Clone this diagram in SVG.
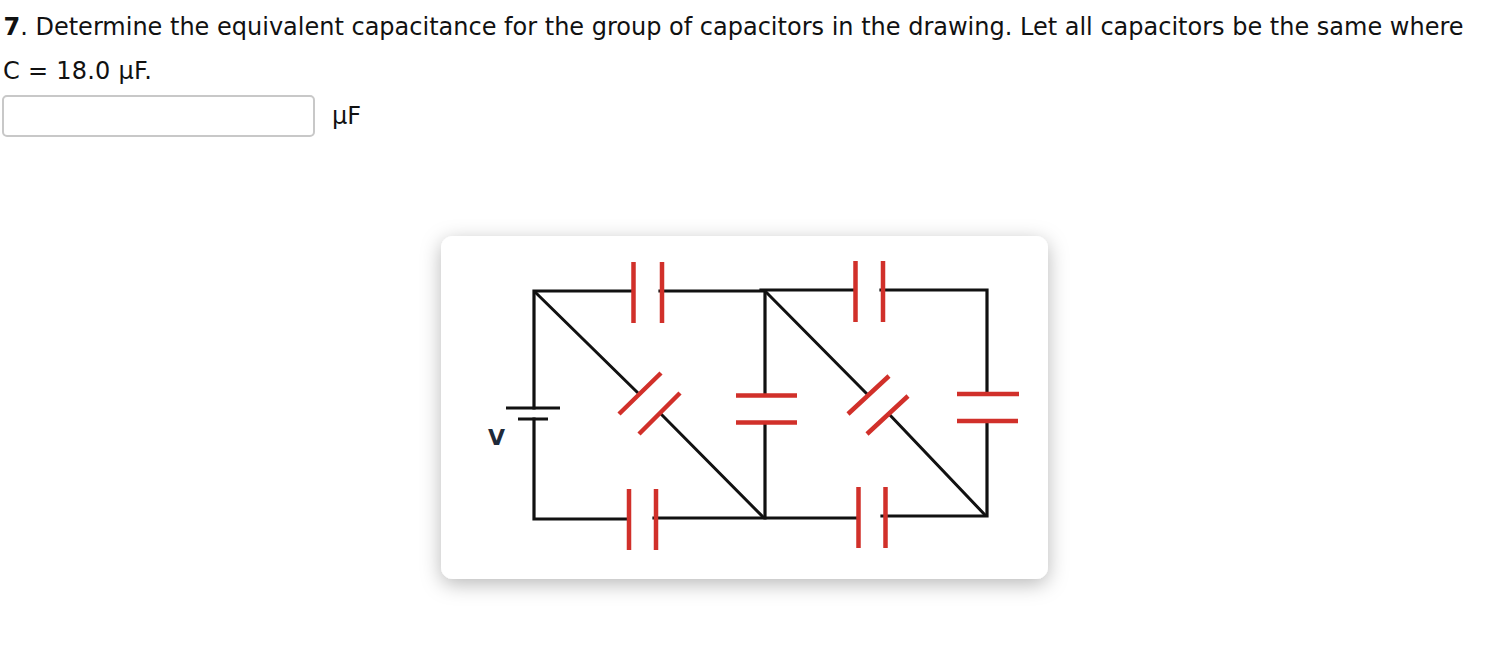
<svg xmlns="http://www.w3.org/2000/svg" width="1492" height="666" viewBox="0 0 1492 666">
<style>
text{font-family:"DejaVu Sans",Verdana,sans-serif;font-size:24px;fill:#111}
.w{stroke:#111;stroke-width:3.2;fill:none;stroke-linecap:square}
.d{stroke:#111;stroke-width:3;fill:none}
.p{stroke:#d1302a;stroke-width:4.500;fill:none}
</style>
<defs><filter id="s" x="-10%" y="-15%" width="120%" height="135%"><feDropShadow dx="0" dy="5" stdDeviation="10" flood-color="#000" flood-opacity=".28"/></filter></defs>
<rect width="1492" height="666" fill="#fff"/>
<g id="question">
<text x="3.500" y="35"><tspan font-weight="bold">7</tspan>. Determine the equivalent capacitance for the group of capacitors in the drawing. Let all capacitors be the same where</text>
<text x="3" y="79" letter-spacing="0.25">C = 18.0 μF.</text>
</g>
<g id="answer">
<rect x="3" y="96" width="311" height="40" rx="4" fill="#fff" stroke="#c8c8c8" stroke-width="2"/>
<text x="332" y="123.500">μF</text>
</g>
<rect id="card" x="441" y="236" width="607" height="343" rx="12" fill="#fff" filter="url(#s)"/>
<g id="connectors">
<path class="w" d="M534 291H632M660 291H765M534 291V408M534 419V519H628M654 518H765M765 291V395M765 423V518"/>
<path class="w" d="M761 290H855M881 290H987V394M987 421V516H882M765 518H857"/>
<path class="d" d="M534 291L638 393M660 413L764 518M765 291L867 394M888 413L986 516"/>
</g>
<g id="battery"><path class="w" style="stroke-linecap:butt" d="M506 408H560M518 419H548"/><text x="488" y="445" style="font-weight:bold;font-size:22px;fill:#1f2a3a">V</text></g>
<g id="c1"><path class="p" d="M633.500 262V323M662 262V323"/></g>
<g id="c2"><path class="p" d="M619 414L661 373M639 434L680 393"/></g>
<g id="c3"><path class="p" d="M736 395.500H797M736 422.500H797"/></g>
<g id="c4"><path class="p" d="M629 489V550M656 489V550"/></g>
<g id="c5"><path class="p" d="M855.500 261V322M883 261V322"/></g>
<g id="c6"><path class="p" d="M848 414L889 376M867 434L908 396"/></g>
<g id="c7"><path class="p" d="M957 394H1019M957 421H1018"/></g>
<g id="c8"><path class="p" d="M858.500 487V548M885.500 487V548"/></g>
</svg>
